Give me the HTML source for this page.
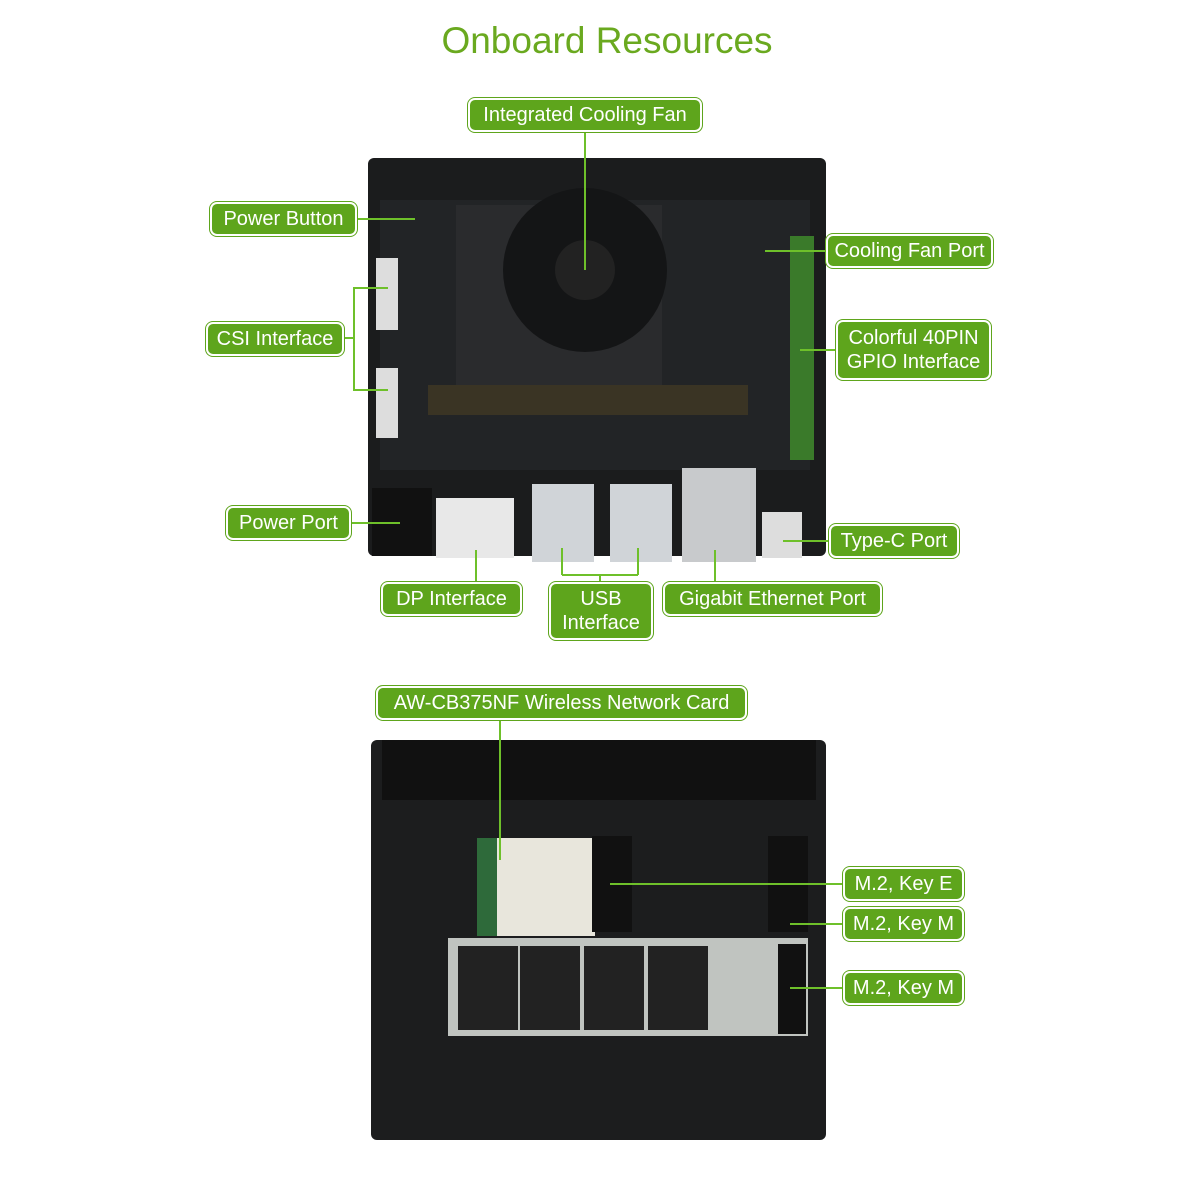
<!DOCTYPE html>
<html><head><meta charset="utf-8"><style>
body{margin:0;width:1200px;height:1200px;background:#fff;position:relative;overflow:hidden;font-family:"Liberation Sans",sans-serif}
.t{position:absolute;left:0;width:1214px;text-align:center;top:20px;font-size:37px;color:#6aa91f}
.l{position:absolute;background:#5ea51c;color:#fff;font-size:20px;border-radius:5px;box-shadow:0 0 0 2px #fff,0 0 0 3px #5ea51c;display:flex;align-items:center;justify-content:center;text-align:center;line-height:24px}
svg{position:absolute;left:0;top:0}
</style></head><body>
<svg width="1200" height="1200">
<rect x="368" y="158" width="458" height="398" rx="6" fill="#1b1c1d"/>
<rect x="380" y="200" width="430" height="270" fill="#222426"/>
<rect x="456" y="205" width="206" height="180" fill="#2a2b2d"/>
<circle cx="585" cy="270" r="82" fill="#141516"/>
<circle cx="585" cy="270" r="30" fill="#222"/>
<rect x="428" y="385" width="320" height="30" fill="#3a3424"/>
<rect x="376" y="258" width="22" height="72" fill="#ddd"/>
<rect x="376" y="368" width="22" height="70" fill="#ddd"/>
<rect x="790" y="236" width="24" height="224" fill="#3a7a2a"/>
<rect x="372" y="488" width="60" height="68" fill="#111"/>
<rect x="436" y="498" width="78" height="60" fill="#e8e8e8"/>
<rect x="532" y="484" width="62" height="78" fill="#d0d4d8"/>
<rect x="610" y="484" width="62" height="78" fill="#d0d4d8"/>
<rect x="682" y="468" width="74" height="94" fill="#c8cacc"/>
<rect x="762" y="512" width="40" height="46" fill="#ddd"/>
<rect x="371" y="740" width="455" height="400" rx="6" fill="#1c1d1e"/>
<rect x="382" y="740" width="434" height="60" fill="#111"/>
<rect x="495" y="838" width="100" height="98" fill="#e8e6dc"/>
<rect x="477" y="838" width="20" height="98" fill="#2e6a3a"/>
<rect x="592" y="836" width="40" height="96" fill="#111"/>
<rect x="768" y="836" width="40" height="96" fill="#111"/>
<rect x="448" y="938" width="360" height="98" fill="#c0c4c0"/>
<rect x="458" y="946" width="60" height="84" fill="#222"/>
<rect x="520" y="946" width="60" height="84" fill="#222"/>
<rect x="584" y="946" width="60" height="84" fill="#222"/>
<rect x="648" y="946" width="60" height="84" fill="#222"/>
<rect x="778" y="944" width="28" height="90" fill="#111"/>
<g stroke="#6ec02a" stroke-width="2" fill="none">
<path d="M585 128V270"/><path d="M355 219H415"/><path d="M828 251H765"/>
<path d="M388 288H354V390H388M342 338H354"/>
<path d="M838 350H800"/><path d="M349 523H400"/><path d="M831 541H783"/>
<path d="M476 584V550"/><path d="M600 584V575M562 575H638M562 575V548M638 575V548"/>
<path d="M715 584V550"/><path d="M500 718V860"/>
<path d="M845 884H610"/><path d="M845 924H790"/><path d="M845 988H790"/>
</g>
</svg>
<div class="t">Onboard Resources</div>
<div class="l" style="left:470px;top:100px;width:230px;height:30px">Integrated Cooling Fan</div>
<div class="l" style="left:212px;top:204px;width:143px;height:30px">Power Button</div>
<div class="l" style="left:828px;top:236px;width:163px;height:30px">Cooling Fan Port</div>
<div class="l" style="left:208px;top:324px;width:134px;height:30px">CSI Interface</div>
<div class="l" style="left:838px;top:322px;width:151px;height:56px">Colorful 40PIN<br>GPIO Interface</div>
<div class="l" style="left:228px;top:508px;width:121px;height:30px">Power Port</div>
<div class="l" style="left:831px;top:526px;width:126px;height:30px">Type-C Port</div>
<div class="l" style="left:383px;top:584px;width:137px;height:30px">DP Interface</div>
<div class="l" style="left:551px;top:584px;width:100px;height:54px">USB<br>Interface</div>
<div class="l" style="left:665px;top:584px;width:215px;height:30px">Gigabit Ethernet Port</div>
<div class="l" style="left:378px;top:688px;width:367px;height:30px">AW-CB375NF Wireless Network Card</div>
<div class="l" style="left:845px;top:869px;width:117px;height:30px">M.2, Key E</div>
<div class="l" style="left:845px;top:909px;width:117px;height:30px">M.2, Key M</div>
<div class="l" style="left:845px;top:973px;width:117px;height:30px">M.2, Key M</div>
</body></html>
